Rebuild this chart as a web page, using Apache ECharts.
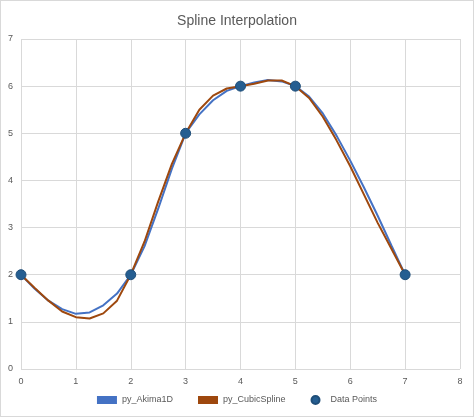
<!DOCTYPE html><html><head><meta charset="utf-8"><script src="https://cdn.jsdelivr.net/npm/echarts@6/dist/echarts.min.js"></script>
<style>html,body{margin:0;padding:0;background:#fff}#c{width:472px;height:415px;border:1px solid #d9d9d9}</style></head><body><div id="c"></div><script>
const xs=[0,0.25,0.5,0.75,1,1.25,1.5,1.75,2,2.25,2.5,2.75,3,3.25,3.5,3.75,4,4.25,4.5,4.75,5,5.25,5.5,5.75,6,6.25,6.5,6.75,7];
const akima=[2,1.7,1.45,1.27,1.17,1.2,1.35,1.6,2,2.6,3.4,4.25,5,5.4,5.7,5.9,6,6.08,6.13,6.1,6,5.78,5.42,4.95,4.42,3.85,3.25,2.62,2];
const cubic=[2,1.72,1.45,1.22,1.1,1.07,1.18,1.45,2,2.7,3.55,4.35,5,5.5,5.8,5.95,6,6.05,6.12,6.12,6,5.75,5.35,4.85,4.3,3.7,3.1,2.55,2];
const px=[0,2,3,4,5,7];const py=[2,2,5,6,6,2];
const z=(a,b)=>a.map((v,i)=>[v,b[i]]);
const ch=echarts.init(document.getElementById('c'));
const ax={axisLine:{show:false},axisTick:{show:false},axisLabel:{color:'#595959',fontSize:9,fontFamily:'Liberation Sans'},splitLine:{lineStyle:{color:'#d9d9d9'}}};
ch.setOption({animation:false,
title:{text:'Spline Interpolation',left:'center',top:8,textStyle:{color:'#595959',fontSize:14,fontWeight:'normal',fontFamily:'Liberation Sans'}},
grid:{left:20,right:13,top:38,bottom:47},
legend:{bottom:6,itemGap:25,textStyle:{color:'#595959',fontSize:9},itemWidth:20,itemHeight:8,data:[{name:'py_Akima1D',icon:'rect',itemHeight:2},{name:'py_CubicSpline',icon:'rect',itemHeight:2},{name:'Data Points',icon:'circle',itemWidth:8}]},
xAxis:Object.assign({type:'value',min:0,max:8,interval:1,axisLine:{show:true,lineStyle:{color:'#d9d9d9'}}},ax),
yAxis:Object.assign({type:'value',min:0,max:7,interval:1},ax),
series:[
{name:'py_Akima1D',type:'line',data:z(xs,akima),showSymbol:false,symbol:'none',lineStyle:{color:'#4472c4',width:2},itemStyle:{color:'#4472c4'}},
{name:'py_CubicSpline',type:'line',data:z(xs,cubic),showSymbol:false,symbol:'none',lineStyle:{color:'#9e480e',width:2},itemStyle:{color:'#9e480e'}},
{name:'Data Points',type:'scatter',z:5,data:z(px,py),symbolSize:10,itemStyle:{color:'#255e91',opacity:1,borderColor:'#1f4e79',borderWidth:1}}
]});
</script></body></html>
